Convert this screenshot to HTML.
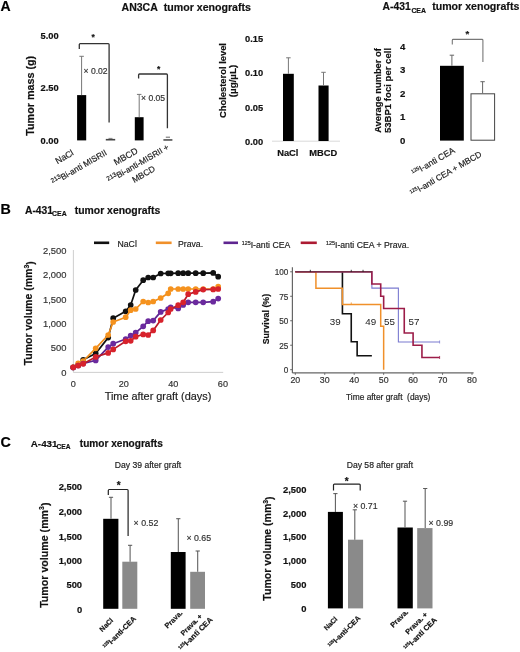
<!DOCTYPE html>
<html><head><meta charset="utf-8"><title>Figure</title>
<style>
html,body{margin:0;padding:0;background:#fff;}
svg{display:block;}
svg text{font-family:"Liberation Sans", sans-serif;}
</style></head>
<body>
<svg width="520" height="652" viewBox="0 0 520 652">
<rect width="520" height="652" fill="#fff"/>
<text x="0.6" y="11.3" font-size="14" font-weight="bold" text-anchor="start" fill="#000"  stroke="#000" stroke-width="0.18">A</text>
<text x="121.6" y="10.6" font-size="10.5" font-weight="bold" text-anchor="start" fill="#111"  stroke="#111" stroke-width="0.18">AN3CA</text>
<text x="163.8" y="10.6" font-size="10.6" font-weight="bold" text-anchor="start" fill="#111"  stroke="#111" stroke-width="0.18">tumor xenografts</text>
<text transform="translate(34.4,95.8) rotate(-90)" font-size="10.783" font-weight="bold" text-anchor="middle" fill="#111"  stroke="#111" stroke-width="0.18">Tumor mass (g)</text>
<text x="58.6" y="39.03" font-size="9.3" font-weight="bold" text-anchor="end" fill="#111"  stroke="#111" stroke-width="0.18">5.00</text>
<text x="58.6" y="91.33" font-size="9.3" font-weight="bold" text-anchor="end" fill="#111"  stroke="#111" stroke-width="0.18">2.50</text>
<text x="58.6" y="144.13" font-size="9.3" font-weight="bold" text-anchor="end" fill="#111"  stroke="#111" stroke-width="0.18">0.00</text>
<rect x="77.1" y="95.1" width="9.1" height="45.3" fill="#000"/>
<line x1="81.6" y1="56.3" x2="81.6" y2="95.1" stroke="#777" stroke-width="1"/>
<line x1="79.35" y1="56.3" x2="83.85" y2="56.3" stroke="#777" stroke-width="1"/>
<rect x="105.8" y="138.9" width="9.4" height="1.6" fill="#444"/>
<line x1="108.5" y1="138.4" x2="112.5" y2="138.4" stroke="#666" stroke-width="0.8"/>
<rect x="134.8" y="117.2" width="8.8" height="23.2" fill="#000"/>
<line x1="139.2" y1="94.4" x2="139.2" y2="117.2" stroke="#777" stroke-width="1"/>
<line x1="136.95" y1="94.4" x2="141.45" y2="94.4" stroke="#777" stroke-width="1"/>
<rect x="163.4" y="139.2" width="9.0" height="1.5" fill="#444"/>
<line x1="165.8" y1="137.2" x2="170.0" y2="137.2" stroke="#555" stroke-width="0.9"/>
<path d="M79.3,49 V44.6 Q79.3,43.7 80.2,43.7 H108.19999999999999 Q109.1,43.7 109.1,44.6 V122.4" stroke="#333" stroke-width="1.3" fill="none" />
<path d="M138.6,78.4 V74.9 Q138.6,74 139.5,74 H166.5 Q167.4,74 167.4,74.9 V128.3" stroke="#333" stroke-width="1.3" fill="none" />
<text x="93.1" y="39.66" font-size="8.5" font-weight="bold" text-anchor="middle" fill="#111"  stroke="#111" stroke-width="0.18">*</text>
<text x="158.6" y="72.26" font-size="8.5" font-weight="bold" text-anchor="middle" fill="#111"  stroke="#111" stroke-width="0.18">*</text>
<text x="83.5" y="74.18" font-size="8.6" text-anchor="start" fill="#333"  stroke="#333" stroke-width="0.18">× 0.02</text>
<text x="141" y="100.88" font-size="8.6" text-anchor="start" fill="#333"  stroke="#333" stroke-width="0.18">× 0.05</text>
<text transform="translate(74.3,154.5) rotate(-30)" font-size="8.786" text-anchor="end" fill="#222"  stroke="#222" stroke-width="0.18">NaCl</text>
<text transform="translate(107.1,153.8) rotate(-30)" font-size="8.4" text-anchor="end" fill="#222"  stroke="#222" stroke-width="0.18"><tspan font-size="75%" dy="-0.35em">213</tspan><tspan dy="0.35em">Bi-anti MISRII</tspan></text>
<text transform="translate(138.5,152.5) rotate(-30)" font-size="8.832" text-anchor="end" fill="#222"  stroke="#222" stroke-width="0.18">MBCD</text>
<text transform="translate(169.2,148.2) rotate(-30)" font-size="8.337" text-anchor="end" fill="#222"  stroke="#222" stroke-width="0.18"><tspan font-size="75%" dy="-0.35em">213</tspan><tspan dy="0.35em">Bi-anti-MISRII +</tspan></text>
<text transform="translate(155.9,170.4) rotate(-30)" font-size="8.5" text-anchor="end" fill="#222"  stroke="#222" stroke-width="0.18">MBCD</text>
<text transform="translate(225.6,80.5) rotate(-90)" font-size="9.377" font-weight="bold" text-anchor="middle" fill="#111"  stroke="#111" stroke-width="0.18">Cholesterol level</text>
<text transform="translate(236.1,81.0) rotate(-90)" font-size="9.801" font-weight="bold" text-anchor="middle" fill="#111"  stroke="#111" stroke-width="0.18">(µg/µL)</text>
<text x="263.2" y="41.63" font-size="9.3" font-weight="bold" text-anchor="end" fill="#111"  stroke="#111" stroke-width="0.18">0.15</text>
<text x="263.2" y="76.13" font-size="9.3" font-weight="bold" text-anchor="end" fill="#111"  stroke="#111" stroke-width="0.18">0.10</text>
<text x="263.2" y="110.83" font-size="9.3" font-weight="bold" text-anchor="end" fill="#111"  stroke="#111" stroke-width="0.18">0.05</text>
<text x="263.2" y="144.83" font-size="9.3" font-weight="bold" text-anchor="end" fill="#111"  stroke="#111" stroke-width="0.18">0.00</text>
<line x1="272" y1="141.2" x2="340" y2="141.2" stroke="#d0d0d0" stroke-width="0.8"/>
<rect x="283" y="73.8" width="10.8" height="67.2" fill="#000"/>
<line x1="288.4" y1="57.8" x2="288.4" y2="73.8" stroke="#777" stroke-width="1"/>
<line x1="286.15" y1="57.8" x2="290.65" y2="57.8" stroke="#777" stroke-width="1"/>
<rect x="318.5" y="85.5" width="10.1" height="55.5" fill="#000"/>
<line x1="323.5" y1="72.3" x2="323.5" y2="85.5" stroke="#777" stroke-width="1"/>
<line x1="321.25" y1="72.3" x2="325.75" y2="72.3" stroke="#777" stroke-width="1"/>
<text x="287.8" y="156.03" font-size="9.3" font-weight="bold" text-anchor="middle" fill="#111"  stroke="#111" stroke-width="0.18">NaCl</text>
<text x="323.2" y="156.03" font-size="9.3" font-weight="bold" text-anchor="middle" fill="#111"  stroke="#111" stroke-width="0.18">MBCD</text>
<text x="382.6" y="10.4" font-size="10.3" font-weight="bold" text-anchor="start" fill="#111"  stroke="#111" stroke-width="0.18">A-431</text>
<text x="411.4" y="12.5" font-size="6.9" font-weight="bold" text-anchor="start" fill="#111"  stroke="#111" stroke-width="0.18">CEA</text>
<text x="432.2" y="10.4" font-size="10.6" font-weight="bold" text-anchor="start" fill="#111"  stroke="#111" stroke-width="0.18">tumor xenografts</text>
<text transform="translate(380.5,90.5) rotate(-90)" font-size="9.334" font-weight="bold" text-anchor="middle" fill="#111"  stroke="#111" stroke-width="0.18">Average number of</text>
<text transform="translate(391.3,90.5) rotate(-90)" font-size="9.596" font-weight="bold" text-anchor="middle" fill="#111"  stroke="#111" stroke-width="0.18">53BP1 foci per cell</text>
<text x="405.4" y="50.04" font-size="9.6" font-weight="bold" text-anchor="end" fill="#111"  stroke="#111" stroke-width="0.18">4</text>
<text x="405.4" y="73.34" font-size="9.6" font-weight="bold" text-anchor="end" fill="#111"  stroke="#111" stroke-width="0.18">3</text>
<text x="405.4" y="96.64" font-size="9.6" font-weight="bold" text-anchor="end" fill="#111"  stroke="#111" stroke-width="0.18">2</text>
<text x="405.4" y="120.24" font-size="9.6" font-weight="bold" text-anchor="end" fill="#111"  stroke="#111" stroke-width="0.18">1</text>
<text x="405.4" y="143.64" font-size="9.6" font-weight="bold" text-anchor="end" fill="#111"  stroke="#111" stroke-width="0.18">0</text>
<rect x="440" y="65.8" width="23.8" height="74.8" fill="#000"/>
<line x1="451.9" y1="55.2" x2="451.9" y2="65.8" stroke="#666" stroke-width="1"/>
<line x1="449.7" y1="55.2" x2="454.09999999999997" y2="55.2" stroke="#666" stroke-width="1"/>
<rect x="471" y="93.8" width="23.6" height="46.4" fill="#fff" stroke="#444" stroke-width="1"/>
<line x1="482.6" y1="81.7" x2="482.6" y2="93.3" stroke="#666" stroke-width="1"/>
<line x1="480.40000000000003" y1="81.7" x2="484.8" y2="81.7" stroke="#666" stroke-width="1"/>
<path d="M452.3,44.4 V40.3 Q452.3,39.4 453.2,39.4 H482.0 Q482.9,39.4 482.9,40.3 V61.9" stroke="#777" stroke-width="1.1" fill="none" />
<text x="467.3" y="36.92" font-size="9.5" font-weight="bold" text-anchor="middle" fill="#111"  stroke="#111" stroke-width="0.18">*</text>
<text transform="translate(454.9,151.0) rotate(-30)" font-size="8.68" text-anchor="end" fill="#222"  stroke="#222" stroke-width="0.18"><tspan font-size="60%" dy="-0.35em">125</tspan><tspan dy="0.35em">I-anti CEA</tspan></text>
<text transform="translate(481.6,154.8) rotate(-30)" font-size="8.45" text-anchor="end" fill="#222"  stroke="#222" stroke-width="0.18"><tspan font-size="60%" dy="-0.35em">125</tspan><tspan dy="0.35em">I-anti CEA + MBCD</tspan></text>
<text x="0.6" y="214.4" font-size="14.3" font-weight="bold" text-anchor="start" fill="#000"  stroke="#000" stroke-width="0.18">B</text>
<text x="25.0" y="214.3" font-size="10.3" font-weight="bold" text-anchor="start" fill="#111"  stroke="#111" stroke-width="0.18">A-431</text>
<text x="52.1" y="216.4" font-size="6.9" font-weight="bold" text-anchor="start" fill="#111"  stroke="#111" stroke-width="0.18">CEA</text>
<text x="74.8" y="214.3" font-size="10.4" font-weight="bold" text-anchor="start" fill="#111"  stroke="#111" stroke-width="0.18">tumor xenografts</text>
<line x1="94" y1="242.8" x2="109.2" y2="242.8" stroke="#111" stroke-width="2.6"/>
<text x="117.5" y="246.71" font-size="8.7" text-anchor="start" fill="#222"  stroke="#222" stroke-width="0.18">NaCl</text>
<line x1="155.8" y1="242.8" x2="171.6" y2="242.8" stroke="#f0902a" stroke-width="2.6"/>
<text x="178" y="246.71" font-size="8.7" text-anchor="start" fill="#222"  stroke="#222" stroke-width="0.18">Prava.</text>
<line x1="223.5" y1="242.8" x2="238" y2="242.8" stroke="#5e2590" stroke-width="2.6"/>
<text x="241.7" y="246.71" font-size="8.7" text-anchor="start" fill="#222"  stroke="#222" stroke-width="0.18"><tspan font-size="62%" dy="-0.38em">125</tspan><tspan dy="0.38em">I-anti CEA</tspan></text>
<line x1="300.7" y1="242.8" x2="316.8" y2="242.8" stroke="#ac1a32" stroke-width="2.6"/>
<text x="326" y="246.71" font-size="8.7" text-anchor="start" fill="#222"  stroke="#222" stroke-width="0.18"><tspan font-size="62%" dy="-0.38em">125</tspan><tspan dy="0.38em">I-anti CEA + Prava.</tspan></text>
<line x1="73.4" y1="250" x2="73.4" y2="372.4" stroke="#c8c8c8" stroke-width="0.9"/>
<line x1="73.4" y1="372.4" x2="223.2" y2="372.4" stroke="#c8c8c8" stroke-width="0.9"/>
<text x="66.4" y="253.67" font-size="9.4" text-anchor="end" fill="#333"  stroke="#333" stroke-width="0.18">2,500</text>
<text x="66.4" y="278.07" font-size="9.4" text-anchor="end" fill="#333"  stroke="#333" stroke-width="0.18">2,000</text>
<text x="66.4" y="302.57" font-size="9.4" text-anchor="end" fill="#333"  stroke="#333" stroke-width="0.18">1,500</text>
<text x="66.4" y="327.07" font-size="9.4" text-anchor="end" fill="#333"  stroke="#333" stroke-width="0.18">1,000</text>
<text x="66.4" y="351.47" font-size="9.4" text-anchor="end" fill="#333"  stroke="#333" stroke-width="0.18">500</text>
<text x="66.4" y="375.77" font-size="9.4" text-anchor="end" fill="#333"  stroke="#333" stroke-width="0.18">0</text>
<text x="73.3" y="387.06" font-size="9.1" text-anchor="middle" fill="#333"  stroke="#333" stroke-width="0.18">0</text>
<text x="123.8" y="387.06" font-size="9.1" text-anchor="middle" fill="#333"  stroke="#333" stroke-width="0.18">20</text>
<text x="173.3" y="387.06" font-size="9.1" text-anchor="middle" fill="#333"  stroke="#333" stroke-width="0.18">40</text>
<text x="222.9" y="387.06" font-size="9.1" text-anchor="middle" fill="#333"  stroke="#333" stroke-width="0.18">60</text>
<text transform="translate(32.3,313.3) rotate(-90)" font-size="10.533" font-weight="bold" text-anchor="middle" fill="#111"  stroke="#111" stroke-width="0.18">Tumor volume (mm<tspan font-size="65%" dy="-0.45em">3</tspan><tspan dy="0.45em">)</tspan></text>
<text x="158.0" y="400.4" font-size="10.9" text-anchor="middle" fill="#222"  stroke="#222" stroke-width="0.18">Time after graft (days)</text>
<path d="M73.2,367.3 L78.2,365.2 L83.2,359.8 L95.7,353.5 L108.2,337.6 L113.2,318.2 L125.7,311.3 L130.7,305.0 L135.7,290.0 L143.2,280.2 L148.2,277.5 L153.2,277.5 L160.7,273.5 L168.2,273.3 L170.7,273.3 L178.2,273.2 L183.2,273.2 L188.2,273.2 L195.7,273.2 L203.2,273.2 L213.2,272.9 L218.2,276.7" stroke="#111" stroke-width="1.7" fill="none" stroke-linejoin="round"/>
<circle cx="73.2" cy="367.3" r="2.85" fill="#111111"/>
<circle cx="78.2" cy="365.2" r="2.85" fill="#111111"/>
<circle cx="83.2" cy="359.8" r="2.85" fill="#111111"/>
<circle cx="95.7" cy="353.5" r="2.85" fill="#111111"/>
<circle cx="108.2" cy="337.6" r="2.85" fill="#111111"/>
<circle cx="113.2" cy="318.2" r="2.85" fill="#111111"/>
<circle cx="125.7" cy="311.3" r="2.85" fill="#111111"/>
<circle cx="130.7" cy="305.0" r="2.85" fill="#111111"/>
<circle cx="135.7" cy="290.0" r="2.85" fill="#111111"/>
<circle cx="143.2" cy="280.2" r="2.85" fill="#111111"/>
<circle cx="148.2" cy="277.5" r="2.85" fill="#111111"/>
<circle cx="153.2" cy="277.5" r="2.85" fill="#111111"/>
<circle cx="160.7" cy="273.5" r="2.85" fill="#111111"/>
<circle cx="168.2" cy="273.3" r="2.85" fill="#111111"/>
<circle cx="170.7" cy="273.3" r="2.85" fill="#111111"/>
<circle cx="178.2" cy="273.2" r="2.85" fill="#111111"/>
<circle cx="183.2" cy="273.2" r="2.85" fill="#111111"/>
<circle cx="188.2" cy="273.2" r="2.85" fill="#111111"/>
<circle cx="195.7" cy="273.2" r="2.85" fill="#111111"/>
<circle cx="203.2" cy="273.2" r="2.85" fill="#111111"/>
<circle cx="213.2" cy="272.9" r="2.85" fill="#111111"/>
<circle cx="218.2" cy="276.7" r="2.85" fill="#111111"/>
<path d="M73.2,367.3 L78.2,363.3 L83.2,361.0 L95.7,348.3 L108.2,335.0 L113.2,322.0 L125.7,317.2 L130.7,310.2 L135.7,309.0 L143.2,301.5 L148.2,302.5 L153.2,301.5 L160.7,298.0 L168.2,293.3 L170.7,289.0 L178.2,289.0 L183.2,289.0 L188.2,289.0 L195.7,289.0 L203.2,289.0 L213.2,289.0 L218.2,286.7" stroke="#f08c1a" stroke-width="1.7" fill="none" stroke-linejoin="round"/>
<circle cx="73.2" cy="367.3" r="2.85" fill="#f5921e"/>
<circle cx="78.2" cy="363.3" r="2.85" fill="#f5921e"/>
<circle cx="83.2" cy="361.0" r="2.85" fill="#f5921e"/>
<circle cx="95.7" cy="348.3" r="2.85" fill="#f5921e"/>
<circle cx="108.2" cy="335.0" r="2.85" fill="#f5921e"/>
<circle cx="113.2" cy="322.0" r="2.85" fill="#f5921e"/>
<circle cx="125.7" cy="317.2" r="2.85" fill="#f5921e"/>
<circle cx="130.7" cy="310.2" r="2.85" fill="#f5921e"/>
<circle cx="135.7" cy="309.0" r="2.85" fill="#f5921e"/>
<circle cx="143.2" cy="301.5" r="2.85" fill="#f5921e"/>
<circle cx="148.2" cy="302.5" r="2.85" fill="#f5921e"/>
<circle cx="153.2" cy="301.5" r="2.85" fill="#f5921e"/>
<circle cx="160.7" cy="298.0" r="2.85" fill="#f5921e"/>
<circle cx="168.2" cy="293.3" r="2.85" fill="#f5921e"/>
<circle cx="170.7" cy="289.0" r="2.85" fill="#f5921e"/>
<circle cx="178.2" cy="289.0" r="2.85" fill="#f5921e"/>
<circle cx="183.2" cy="289.0" r="2.85" fill="#f5921e"/>
<circle cx="188.2" cy="289.0" r="2.85" fill="#f5921e"/>
<circle cx="195.7" cy="289.0" r="2.85" fill="#f5921e"/>
<circle cx="203.2" cy="289.0" r="2.85" fill="#f5921e"/>
<circle cx="213.2" cy="289.0" r="2.85" fill="#f5921e"/>
<circle cx="218.2" cy="286.7" r="2.85" fill="#f5921e"/>
<path d="M73.2,367.5 L78.2,365.5 L83.2,363.5 L95.7,360.4 L108.2,347.1 L113.2,343.7 L125.7,339.0 L130.7,335.6 L135.7,332.7 L143.2,326.3 L148.2,321.2 L153.2,320.6 L160.7,311.9 L168.2,309.0 L170.7,307.3 L178.2,308.5 L183.2,305.0 L188.2,302.3 L195.7,302.3 L203.2,302.3 L213.2,301.7 L218.2,298.6" stroke="#5e2590" stroke-width="1.7" fill="none" stroke-linejoin="round"/>
<circle cx="73.2" cy="367.5" r="2.85" fill="#6b2a9e"/>
<circle cx="78.2" cy="365.5" r="2.85" fill="#6b2a9e"/>
<circle cx="83.2" cy="363.5" r="2.85" fill="#6b2a9e"/>
<circle cx="95.7" cy="360.4" r="2.85" fill="#6b2a9e"/>
<circle cx="108.2" cy="347.1" r="2.85" fill="#6b2a9e"/>
<circle cx="113.2" cy="343.7" r="2.85" fill="#6b2a9e"/>
<circle cx="125.7" cy="339.0" r="2.85" fill="#6b2a9e"/>
<circle cx="130.7" cy="335.6" r="2.85" fill="#6b2a9e"/>
<circle cx="135.7" cy="332.7" r="2.85" fill="#6b2a9e"/>
<circle cx="143.2" cy="326.3" r="2.85" fill="#6b2a9e"/>
<circle cx="148.2" cy="321.2" r="2.85" fill="#6b2a9e"/>
<circle cx="153.2" cy="320.6" r="2.85" fill="#6b2a9e"/>
<circle cx="160.7" cy="311.9" r="2.85" fill="#6b2a9e"/>
<circle cx="168.2" cy="309.0" r="2.85" fill="#6b2a9e"/>
<circle cx="170.7" cy="307.3" r="2.85" fill="#6b2a9e"/>
<circle cx="178.2" cy="308.5" r="2.85" fill="#6b2a9e"/>
<circle cx="183.2" cy="305.0" r="2.85" fill="#6b2a9e"/>
<circle cx="188.2" cy="302.3" r="2.85" fill="#6b2a9e"/>
<circle cx="195.7" cy="302.3" r="2.85" fill="#6b2a9e"/>
<circle cx="203.2" cy="302.3" r="2.85" fill="#6b2a9e"/>
<circle cx="213.2" cy="301.7" r="2.85" fill="#6b2a9e"/>
<circle cx="218.2" cy="298.6" r="2.85" fill="#6b2a9e"/>
<path d="M73.2,367.3 L78.2,365.6 L83.2,363.8 L95.7,356.9 L108.2,352.9 L113.2,349.4 L125.7,341.3 L130.7,340.8 L135.7,336.7 L143.2,334.4 L148.2,335.0 L153.2,330.4 L160.7,320.0 L168.2,312.5 L170.7,309.0 L178.2,305.2 L183.2,302.3 L188.2,294.2 L195.7,291.9 L203.2,289.6 L213.2,289.4 L218.2,289.0" stroke="#b81a2a" stroke-width="1.7" fill="none" stroke-linejoin="round"/>
<circle cx="73.2" cy="367.3" r="2.85" fill="#d7222c"/>
<circle cx="78.2" cy="365.6" r="2.85" fill="#d7222c"/>
<circle cx="83.2" cy="363.8" r="2.85" fill="#d7222c"/>
<circle cx="95.7" cy="356.9" r="2.85" fill="#d7222c"/>
<circle cx="108.2" cy="352.9" r="2.85" fill="#d7222c"/>
<circle cx="113.2" cy="349.4" r="2.85" fill="#d7222c"/>
<circle cx="125.7" cy="341.3" r="2.85" fill="#d7222c"/>
<circle cx="130.7" cy="340.8" r="2.85" fill="#d7222c"/>
<circle cx="135.7" cy="336.7" r="2.85" fill="#d7222c"/>
<circle cx="143.2" cy="334.4" r="2.85" fill="#d7222c"/>
<circle cx="148.2" cy="335.0" r="2.85" fill="#d7222c"/>
<circle cx="153.2" cy="330.4" r="2.85" fill="#d7222c"/>
<circle cx="160.7" cy="320.0" r="2.85" fill="#d7222c"/>
<circle cx="168.2" cy="312.5" r="2.85" fill="#d7222c"/>
<circle cx="170.7" cy="309.0" r="2.85" fill="#d7222c"/>
<circle cx="178.2" cy="305.2" r="2.85" fill="#d7222c"/>
<circle cx="183.2" cy="302.3" r="2.85" fill="#d7222c"/>
<circle cx="188.2" cy="294.2" r="2.85" fill="#d7222c"/>
<circle cx="195.7" cy="291.9" r="2.85" fill="#d7222c"/>
<circle cx="203.2" cy="289.6" r="2.85" fill="#d7222c"/>
<circle cx="213.2" cy="289.4" r="2.85" fill="#d7222c"/>
<circle cx="218.2" cy="289.0" r="2.85" fill="#d7222c"/>
<line x1="292.4" y1="267.3" x2="292.4" y2="373" stroke="#666" stroke-width="1.2"/>
<line x1="292.4" y1="372.8" x2="473.6" y2="372.8" stroke="#666" stroke-width="1.2"/>
<line x1="290.2" y1="271.8" x2="292.4" y2="271.8" stroke="#666" stroke-width="1"/>
<text x="288.4" y="275.34" font-size="8.2" text-anchor="end" fill="#333"  stroke="#333" stroke-width="0.18">100</text>
<line x1="290.2" y1="296.27" x2="292.4" y2="296.27" stroke="#666" stroke-width="1"/>
<text x="288.4" y="299.81" font-size="8.2" text-anchor="end" fill="#333"  stroke="#333" stroke-width="0.18">75</text>
<line x1="290.2" y1="320.75" x2="292.4" y2="320.75" stroke="#666" stroke-width="1"/>
<text x="288.4" y="324.29" font-size="8.2" text-anchor="end" fill="#333"  stroke="#333" stroke-width="0.18">50</text>
<line x1="290.2" y1="345.22" x2="292.4" y2="345.22" stroke="#666" stroke-width="1"/>
<text x="288.4" y="348.76" font-size="8.2" text-anchor="end" fill="#333"  stroke="#333" stroke-width="0.18">25</text>
<line x1="290.2" y1="369.7" x2="292.4" y2="369.7" stroke="#666" stroke-width="1"/>
<text x="288.4" y="373.24" font-size="8.2" text-anchor="end" fill="#333"  stroke="#333" stroke-width="0.18">0</text>
<line x1="295.3" y1="372.9" x2="295.3" y2="374.8" stroke="#666" stroke-width="1"/>
<text x="295.3" y="383.25" font-size="8.8" text-anchor="middle" fill="#333"  stroke="#333" stroke-width="0.18">20</text>
<line x1="324.75" y1="372.9" x2="324.75" y2="374.8" stroke="#666" stroke-width="1"/>
<text x="324.75" y="383.25" font-size="8.8" text-anchor="middle" fill="#333"  stroke="#333" stroke-width="0.18">30</text>
<line x1="354.2" y1="372.9" x2="354.2" y2="374.8" stroke="#666" stroke-width="1"/>
<text x="354.2" y="383.25" font-size="8.8" text-anchor="middle" fill="#333"  stroke="#333" stroke-width="0.18">40</text>
<line x1="383.65" y1="372.9" x2="383.65" y2="374.8" stroke="#666" stroke-width="1"/>
<text x="383.65" y="383.25" font-size="8.8" text-anchor="middle" fill="#333"  stroke="#333" stroke-width="0.18">50</text>
<line x1="413.1" y1="372.9" x2="413.1" y2="374.8" stroke="#666" stroke-width="1"/>
<text x="413.1" y="383.25" font-size="8.8" text-anchor="middle" fill="#333"  stroke="#333" stroke-width="0.18">60</text>
<line x1="442.55" y1="372.9" x2="442.55" y2="374.8" stroke="#666" stroke-width="1"/>
<text x="442.55" y="383.25" font-size="8.8" text-anchor="middle" fill="#333"  stroke="#333" stroke-width="0.18">70</text>
<line x1="472.0" y1="372.9" x2="472.0" y2="374.8" stroke="#666" stroke-width="1"/>
<text x="472.0" y="383.25" font-size="8.8" text-anchor="middle" fill="#333"  stroke="#333" stroke-width="0.18">80</text>
<text transform="translate(269.1,319.1) rotate(-90)" font-size="8.822" font-weight="bold" text-anchor="middle" fill="#111"  stroke="#111" stroke-width="0.18">Survival (%)</text>
<text x="346" y="400.21" font-size="8.4" text-anchor="start" fill="#222"  stroke="#222" stroke-width="0.18">Time after graft&#160;&#160;(days)</text>
<path d="M342.42,271.8 H342.42 V313.8 H351.25 H351.25 V341.7 H357.14 H357.14 V355.7 H371.87" stroke="#111" stroke-width="1.6" fill="none" />
<path d="M295.3,271.8 H371.87 H371.87 V288.15 H398.38 H398.38 V341.99 H439.61" stroke="#7b7bd0" stroke-width="1.1" fill="none" />
<path d="M295.3,271.8 H315.92 H315.92 V288.15 H342.42 H342.42 V304.4 H380.71 H380.71 V326.23 H383.65 H383.65 V369.7" stroke="#f0902a" stroke-width="1.5" fill="none" />
<path d="M295.3,271.8 H371.87 H371.87 V284.04 H380.71 H380.71 V296.27 H383.65 H383.65 V308.51 H404.26 H404.26 V332.99 H413.1 H413.1 V345.22 H421.94 H421.94 V357.46 H439.61" stroke="#9c1c48" stroke-width="1.6" fill="none" />
<path d="M295.3,271.8 H371.87" stroke="#74304a" stroke-width="1.6" fill="none" />
<line x1="310.32" y1="269.8" x2="310.32" y2="271.8" stroke="#111" stroke-width="0.8"/>
<line x1="351.25" y1="269.8" x2="351.25" y2="271.8" stroke="#111" stroke-width="0.8"/>
<line x1="363.04" y1="269.8" x2="363.04" y2="271.8" stroke="#111" stroke-width="0.8"/>
<line x1="351.25" y1="302.4" x2="351.25" y2="304.4" stroke="#f0902a" stroke-width="0.8"/>
<line x1="439.61" y1="340.49" x2="439.61" y2="343.49" stroke="#7b7bd0" stroke-width="0.8"/>
<line x1="439.61" y1="355.96" x2="439.61" y2="358.96" stroke="#9c1c48" stroke-width="0.8"/>
<text x="335.2" y="324.51" font-size="9.8" text-anchor="middle" fill="#222" stroke="none">39</text>
<text x="370.8" y="324.51" font-size="9.8" text-anchor="middle" fill="#222" stroke="none">49</text>
<text x="389.4" y="324.51" font-size="9.8" text-anchor="middle" fill="#222" stroke="none">55</text>
<text x="413.9" y="324.51" font-size="9.8" text-anchor="middle" fill="#222" stroke="none">57</text>
<text x="0.6" y="446.7" font-size="14.3" font-weight="bold" text-anchor="start" fill="#000"  stroke="#000" stroke-width="0.18">C</text>
<text x="30.8" y="446.7" font-size="9.8" font-weight="bold" text-anchor="start" fill="#111"  stroke="#111" stroke-width="0.18">A-431</text>
<text x="56.6" y="448.8" font-size="6.6" font-weight="bold" text-anchor="start" fill="#111"  stroke="#111" stroke-width="0.18">CEA</text>
<text x="79.8" y="446.7" font-size="10.1" font-weight="bold" text-anchor="start" fill="#111"  stroke="#111" stroke-width="0.18">tumor xenografts</text>
<text x="114.8" y="467.88" font-size="8.6" text-anchor="start" fill="#222"  stroke="#222" stroke-width="0.18">Day 39 after graft</text>
<text transform="translate(47.5,555.2) rotate(-90)" font-size="10.655" font-weight="bold" text-anchor="middle" fill="#111"  stroke="#111" stroke-width="0.18">Tumor volume (mm<tspan font-size="65%" dy="-0.45em">3</tspan><tspan dy="0.45em">)</tspan></text>
<text x="82.1" y="490.27" font-size="9.4" font-weight="bold" text-anchor="end" fill="#111"  stroke="#111" stroke-width="0.18">2,500</text>
<text x="82.1" y="515.17" font-size="9.4" font-weight="bold" text-anchor="end" fill="#111"  stroke="#111" stroke-width="0.18">2,000</text>
<text x="82.1" y="539.87" font-size="9.4" font-weight="bold" text-anchor="end" fill="#111"  stroke="#111" stroke-width="0.18">1,500</text>
<text x="82.1" y="563.87" font-size="9.4" font-weight="bold" text-anchor="end" fill="#111"  stroke="#111" stroke-width="0.18">1,000</text>
<text x="82.1" y="588.17" font-size="9.4" font-weight="bold" text-anchor="end" fill="#111"  stroke="#111" stroke-width="0.18">500</text>
<text x="82.1" y="612.57" font-size="9.4" font-weight="bold" text-anchor="end" fill="#111"  stroke="#111" stroke-width="0.18">0</text>
<rect x="103.2" y="518.8" width="15.2" height="90.0" fill="#000"/>
<rect x="122.3" y="561.7" width="15.0" height="47.1" fill="#8a8a8a"/>
<rect x="170.8" y="552" width="14.8" height="56.8" fill="#000"/>
<rect x="190.2" y="571.8" width="14.8" height="37.0" fill="#8a8a8a"/>
<line x1="111" y1="497.3" x2="111" y2="518.8" stroke="#5a5a5a" stroke-width="1.05"/>
<line x1="108.9" y1="497.3" x2="113.1" y2="497.3" stroke="#5a5a5a" stroke-width="1.05"/>
<line x1="130.1" y1="545.3" x2="130.1" y2="561.7" stroke="#5a5a5a" stroke-width="1.05"/>
<line x1="128.0" y1="545.3" x2="132.2" y2="545.3" stroke="#5a5a5a" stroke-width="1.05"/>
<line x1="178.3" y1="518.7" x2="178.3" y2="552" stroke="#5a5a5a" stroke-width="1.05"/>
<line x1="176.20000000000002" y1="518.7" x2="180.4" y2="518.7" stroke="#5a5a5a" stroke-width="1.05"/>
<line x1="197.7" y1="551" x2="197.7" y2="571.8" stroke="#5a5a5a" stroke-width="1.05"/>
<line x1="195.6" y1="551" x2="199.79999999999998" y2="551" stroke="#5a5a5a" stroke-width="1.05"/>
<path d="M108.3,495 V490.4 Q108.3,489.5 109.2,489.5 H127.19999999999999 Q128.1,489.5 128.1,490.4 V535.9" stroke="#222" stroke-width="1.2" fill="none" />
<text x="118.6" y="489.0" font-size="10" font-weight="bold" text-anchor="middle" fill="#111"  stroke="#111" stroke-width="0.18">*</text>
<text x="133.6" y="526.35" font-size="8.8" text-anchor="start" fill="#333"  stroke="#333" stroke-width="0.18">× 0.52</text>
<text x="186.4" y="541.45" font-size="8.8" text-anchor="start" fill="#333"  stroke="#333" stroke-width="0.18">× 0.65</text>
<text transform="translate(113.6,620.9) rotate(-45)" font-size="7.006" font-weight="bold" text-anchor="end" fill="#111"  stroke="#111" stroke-width="0.18">NaCl</text>
<text transform="translate(135.8,618.5) rotate(-45)" font-size="7.376" font-weight="bold" text-anchor="end" fill="#111"  stroke="#111" stroke-width="0.18"><tspan font-size="60%" dy="-0.35em">125</tspan><tspan dy="0.35em">I-anti-CEA</tspan></text>
<text transform="translate(183.0,613.4) rotate(-45)" font-size="7.292" font-weight="bold" text-anchor="end" fill="#111"  stroke="#111" stroke-width="0.18">Prava.</text>
<text transform="translate(202.6,616.9) rotate(-45)" font-size="7.014" font-weight="bold" text-anchor="end" fill="#111"  stroke="#111" stroke-width="0.18">Prava. +</text>
<text transform="translate(212.3,619.4) rotate(-45)" font-size="7.648" font-weight="bold" text-anchor="end" fill="#111"  stroke="#111" stroke-width="0.18"><tspan font-size="60%" dy="-0.35em">125</tspan><tspan dy="0.35em">I-anti CEA</tspan></text>
<text x="346.7" y="467.88" font-size="8.6" text-anchor="start" fill="#222"  stroke="#222" stroke-width="0.18">Day 58 after graft</text>
<text transform="translate(271.2,548.5) rotate(-90)" font-size="10.544" font-weight="bold" text-anchor="middle" fill="#111"  stroke="#111" stroke-width="0.18">Tumor volume (mm<tspan font-size="65%" dy="-0.45em">3</tspan><tspan dy="0.45em">)</tspan></text>
<text x="306.40000000000003" y="492.67" font-size="9.4" font-weight="bold" text-anchor="end" fill="#111"  stroke="#111" stroke-width="0.18">2,500</text>
<text x="306.40000000000003" y="516.97" font-size="9.4" font-weight="bold" text-anchor="end" fill="#111"  stroke="#111" stroke-width="0.18">2,000</text>
<text x="306.40000000000003" y="540.27" font-size="9.4" font-weight="bold" text-anchor="end" fill="#111"  stroke="#111" stroke-width="0.18">1,500</text>
<text x="306.40000000000003" y="563.97" font-size="9.4" font-weight="bold" text-anchor="end" fill="#111"  stroke="#111" stroke-width="0.18">1,000</text>
<text x="306.40000000000003" y="588.07" font-size="9.4" font-weight="bold" text-anchor="end" fill="#111"  stroke="#111" stroke-width="0.18">500</text>
<text x="306.40000000000003" y="611.97" font-size="9.4" font-weight="bold" text-anchor="end" fill="#111"  stroke="#111" stroke-width="0.18">0</text>
<rect x="327.9" y="511.9" width="15.0" height="96.5" fill="#000"/>
<rect x="348" y="539.7" width="15.1" height="68.7" fill="#8a8a8a"/>
<rect x="397.5" y="527.5" width="15.3" height="80.9" fill="#000"/>
<rect x="417.2" y="528.1" width="15.3" height="80.3" fill="#8a8a8a"/>
<line x1="335.4" y1="493.6" x2="335.4" y2="511.9" stroke="#5a5a5a" stroke-width="1.05"/>
<line x1="333.29999999999995" y1="493.6" x2="337.5" y2="493.6" stroke="#5a5a5a" stroke-width="1.05"/>
<line x1="354.8" y1="509.8" x2="354.8" y2="539.7" stroke="#5a5a5a" stroke-width="1.05"/>
<line x1="352.7" y1="509.8" x2="356.90000000000003" y2="509.8" stroke="#5a5a5a" stroke-width="1.05"/>
<line x1="405" y1="501.2" x2="405" y2="527.5" stroke="#5a5a5a" stroke-width="1.05"/>
<line x1="402.9" y1="501.2" x2="407.1" y2="501.2" stroke="#5a5a5a" stroke-width="1.05"/>
<line x1="425.2" y1="488.5" x2="425.2" y2="528.1" stroke="#5a5a5a" stroke-width="1.05"/>
<line x1="423.09999999999997" y1="488.5" x2="427.3" y2="488.5" stroke="#5a5a5a" stroke-width="1.05"/>
<path d="M333.5,490.4 V485.09999999999997 Q333.5,484.2 334.4,484.2 H359.3 Q360.2,484.2 360.2,485.09999999999997 V490.4" stroke="#222" stroke-width="1.2" fill="none" />
<text x="346.7" y="485.2" font-size="10" font-weight="bold" text-anchor="middle" fill="#111"  stroke="#111" stroke-width="0.18">*</text>
<text x="352.9" y="508.75" font-size="8.8" text-anchor="start" fill="#333"  stroke="#333" stroke-width="0.18">× 0.71</text>
<text x="428.5" y="525.85" font-size="8.8" text-anchor="start" fill="#333"  stroke="#333" stroke-width="0.18">× 0.99</text>
<text transform="translate(337.9,619.7) rotate(-45)" font-size="6.937" font-weight="bold" text-anchor="end" fill="#111"  stroke="#111" stroke-width="0.18">NaCl</text>
<text transform="translate(360.2,617.8) rotate(-45)" font-size="7.244" font-weight="bold" text-anchor="end" fill="#111"  stroke="#111" stroke-width="0.18"><tspan font-size="60%" dy="-0.35em">125</tspan><tspan dy="0.35em">I-anti-CEA</tspan></text>
<text transform="translate(408.7,612.5) rotate(-45)" font-size="7.32" font-weight="bold" text-anchor="end" fill="#111"  stroke="#111" stroke-width="0.18">Prava.</text>
<text transform="translate(428.1,615.0) rotate(-45)" font-size="7.226" font-weight="bold" text-anchor="end" fill="#111"  stroke="#111" stroke-width="0.18">Prava. +</text>
<text transform="translate(436.7,619.6) rotate(-45)" font-size="7.494" font-weight="bold" text-anchor="end" fill="#111"  stroke="#111" stroke-width="0.18"><tspan font-size="60%" dy="-0.35em">125</tspan><tspan dy="0.35em">I-anti CEA</tspan></text>
</svg>
</body></html>
